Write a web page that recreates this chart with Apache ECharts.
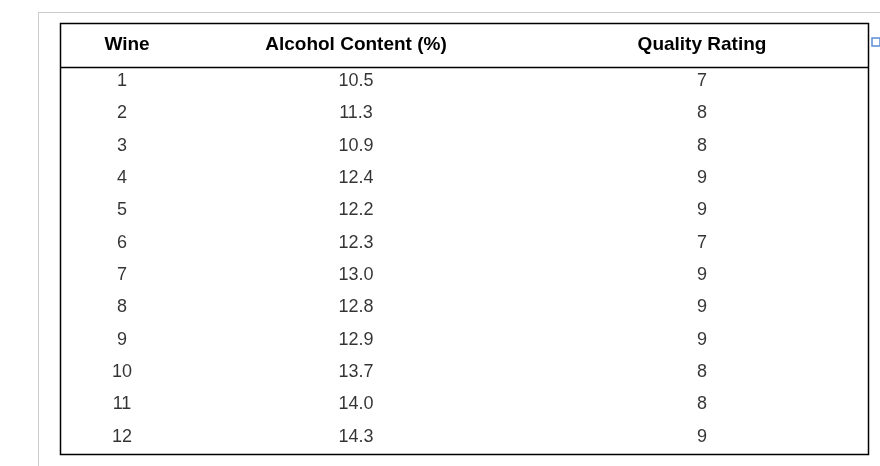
<!DOCTYPE html>
<html><head><meta charset="utf-8">
<script src="https://cdn.jsdelivr.net/npm/echarts@6/dist/echarts.min.js"></script>
<style>html,body{margin:0;background:#fff}#c{width:880px;height:466px}</style>
</head><body><div id="c"></div>
<script>
const headers = ["Wine", "Alcohol Content (%)", "Quality Rating"];
const wines = ["1","2","3","4","5","6","7","8","9","10","11","12"];
const alcohol = ["10.5","11.3","10.9","12.4","12.2","12.3","13.0","12.8","12.9","13.7","14.0","14.3"];
const quality = [7,8,8,9,9,7,9,9,9,8,8,9];

const colX = [122, 356, 702];
const font = '"Liberation Sans", Arial, sans-serif';
const cols = [wines, alcohol, quality];
const chart = echarts.init(document.getElementById('c'));
chart.setOption({
  animation: false,
  grid: {left: 0, right: 0, top: 65, height: 388},
  xAxis: {type: 'value', min: 0, max: 880, show: false},
  yAxis: {type: 'category', inverse: true, data: wines, show: false},
  series: cols.map((col, ci) => ({
    type: 'scatter', symbolSize: 0,
    data: col.map((v, i) => ({value: [colX[ci], i], txt: String(v)})),
    label: {show: true, position: 'inside', formatter: p => p.data.txt,
      fontFamily: font, fontSize: 18, color: '#000'}
  })),
  graphic: [
    {type: 'line', shape: {x1: 38, y1: 12.5, x2: 880, y2: 12.5}, style: {stroke: '#ccc', lineWidth: 1}},
    {type: 'line', shape: {x1: 38.5, y1: 12, x2: 38.5, y2: 466}, style: {stroke: '#ccc', lineWidth: 1}},
    {type: 'rect', shape: {x: 60.5, y: 23.5, width: 808, height: 431}, style: {fill: 'none', stroke: '#000', lineWidth: 1.5}},
    {type: 'line', shape: {x1: 60, y1: 67.5, x2: 869, y2: 67.5}, style: {stroke: '#000', lineWidth: 1.5}},
    {type: 'rect', shape: {x: 872, y: 38, width: 8, height: 8}, style: {fill: 'none', stroke: '#5b8dd6', lineWidth: 1.5}}
  ].concat(headers.map((h, i) => ({
    type: 'text', x: colX[i] + (i === 0 ? 5 : 0), y: 45,
    style: {text: h, fontFamily: font, fontWeight: 'bold', fontSize: 19, fill: '#000',
      textAlign: 'center', textVerticalAlign: 'middle'}
  })))
});
</script></body></html>
